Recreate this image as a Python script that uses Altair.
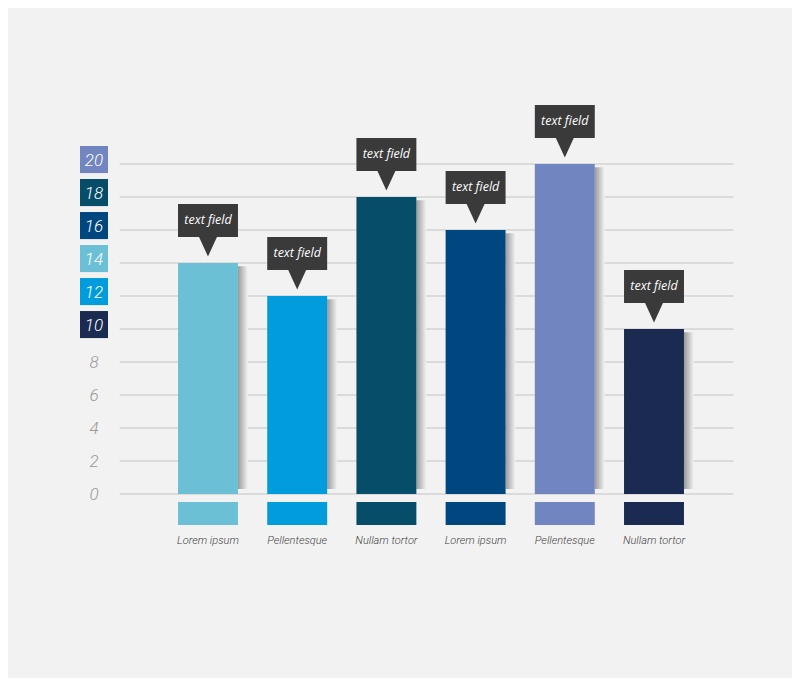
import altair as alt
import pandas as pd

# ---- data ----
categories = ["Lorem ipsum", "Pellentesque", "Nullam tortor", "Lorem ipsum", "Pellentesque", "Nullam tortor"]
values = [14, 12, 18, 16, 20, 10]
bar_colors = ["#6cc0d6", "#019cdc", "#064d69", "#00467f", "#7185c0", "#1a2a50"]
tick_values = [0, 2, 4, 6, 8, 10, 12, 14, 16, 18, 20]
boxed_ticks = [10, 12, 14, 16, 18, 20]
boxed_colors = ["#1a2a50", "#019cdc", "#6cc0d6", "#00467f", "#064d69", "#7185c0"]
callout_text = "text field"

HALF = 0.336  # half bar width in category units
AXIS_X = -1.278

bars = pd.DataFrame({"i": list(range(len(values))), "cat": categories,
                     "value": values, "color": bar_colors})
bars["x1"] = bars["i"] - HALF
bars["x2"] = bars["i"] + HALF
bars["zero"] = 0.0
bars["sx1"] = bars["x2"]
bars["sx2"] = bars["x2"] + 0.11
bars["sy1"] = 0.3
bars["sy2"] = bars["value"] - 0.2
bars["cb1"] = bars["value"] + 1.58
bars["cb2"] = bars["value"] + 3.58
bars["tri"] = bars["value"] + 0.99
bars["ct"] = bars["value"] + 2.58
bars["txt"] = callout_text
bars["tab1"] = -0.485
bars["tab2"] = -1.879
bars["lab"] = -2.85

ticks = pd.DataFrame({"v": tick_values})
ticks["gx1"] = -0.99
ticks["gx2"] = 5.89
ticks["lx"] = AXIS_X
ticks["label"] = ticks["v"].astype(str)
ticks["boxed"] = ticks["v"].isin(boxed_ticks)
ticks["ly"] = ticks["v"] + ticks["boxed"].map({True: 0.18, False: -0.05})
ticks["tcolor"] = ticks["boxed"].map({True: "#ffffff", False: "#9a9a9a"})

boxes = pd.DataFrame({"v": boxed_ticks, "color": boxed_colors})
boxes["x1"] = AXIS_X - 0.157
boxes["x2"] = AXIS_X + 0.157
boxes["y1"] = boxes["v"] + 0.27 - 0.82
boxes["y2"] = boxes["v"] + 0.27 + 0.82

X = alt.Scale(domain=[-2.242, 6.547], nice=False, zero=False)
Y = alt.Scale(domain=[-11.15, 29.455], nice=False, zero=False)

def xq(f):
    return alt.X(f, type="quantitative", scale=X, axis=None)

def yq(f):
    return alt.Y(f, type="quantitative", scale=Y, axis=None)

base_b = alt.Chart(bars)
base_t = alt.Chart(ticks)

grid = base_t.mark_rule(color="#c4c4c4", strokeWidth=1).encode(
    x=xq("gx1"), x2="gx2", y=yq("v"))

tick_boxes = alt.Chart(boxes).mark_rect().encode(
    x=xq("x1"), x2="x2", y=yq("y1"), y2="y2",
    color=alt.Color("color:N", scale=None))

tick_text = base_t.mark_text(font="Roboto", fontSize=17, fontStyle="italic",
                             fontWeight=300, align="center", baseline="middle").encode(
    x=xq("lx"), y=yq("ly"), text="label:N",
    color=alt.Color("tcolor:N", scale=None))

shadow_grad = alt.Gradient(
    gradient="linear",
    stops=[alt.GradientStop(color="#9a9a9a", offset=0),
           alt.GradientStop(color="#f2f2f2", offset=1)],
    x1=0, x2=1, y1=0, y2=0)

shadow = base_b.mark_rect(color=shadow_grad).encode(
    x=xq("sx1"), x2="sx2", y=yq("sy1"), y2="sy2")

bar = base_b.mark_rect().encode(
    x=xq("x1"), x2="x2", y=yq("zero"), y2="value",
    color=alt.Color("color:N", scale=None))

tab = base_b.mark_rect().encode(
    x=xq("x1"), x2="x2", y=yq("tab1"), y2="tab2",
    color=alt.Color("color:N", scale=None))

tab_label = base_b.mark_text(font="Roboto", fontSize=11, fontStyle="italic",
                             fontWeight=300, color="#444444", align="center",
                             baseline="middle").encode(
    x=xq("i"), y=yq("lab"), text="cat:N")

callout_box = base_b.mark_rect(color="#3a3a3a").encode(
    x=xq("x1"), x2="x2", y=yq("cb1"), y2="cb2")

callout_tri = base_b.mark_point(shape="M-0.92,-1L0.92,-1L0,1Z", filled=True,
                                size=380, color="#3a3a3a", opacity=1,
                                strokeWidth=0).encode(
    x=xq("i"), y=yq("tri"))

callout_text_mark = base_b.mark_text(font="Open Sans", fontSize=12.5,
                                     fontStyle="italic", color="#ffffff",
                                     align="center", baseline="middle").encode(
    x=xq("i"), y=yq("ct"), text="txt:N")

chart = alt.layer(
    grid, tick_boxes, tick_text, shadow, bar, tab, tab_label,
    callout_box, callout_tri, callout_text_mark
).properties(
    width=784, height=670, padding=0, autosize="none", background="#f2f2f2"
).configure_view(stroke=None)

chart.save("out.html", embed_options={"renderer": "svg", "actions": False})
